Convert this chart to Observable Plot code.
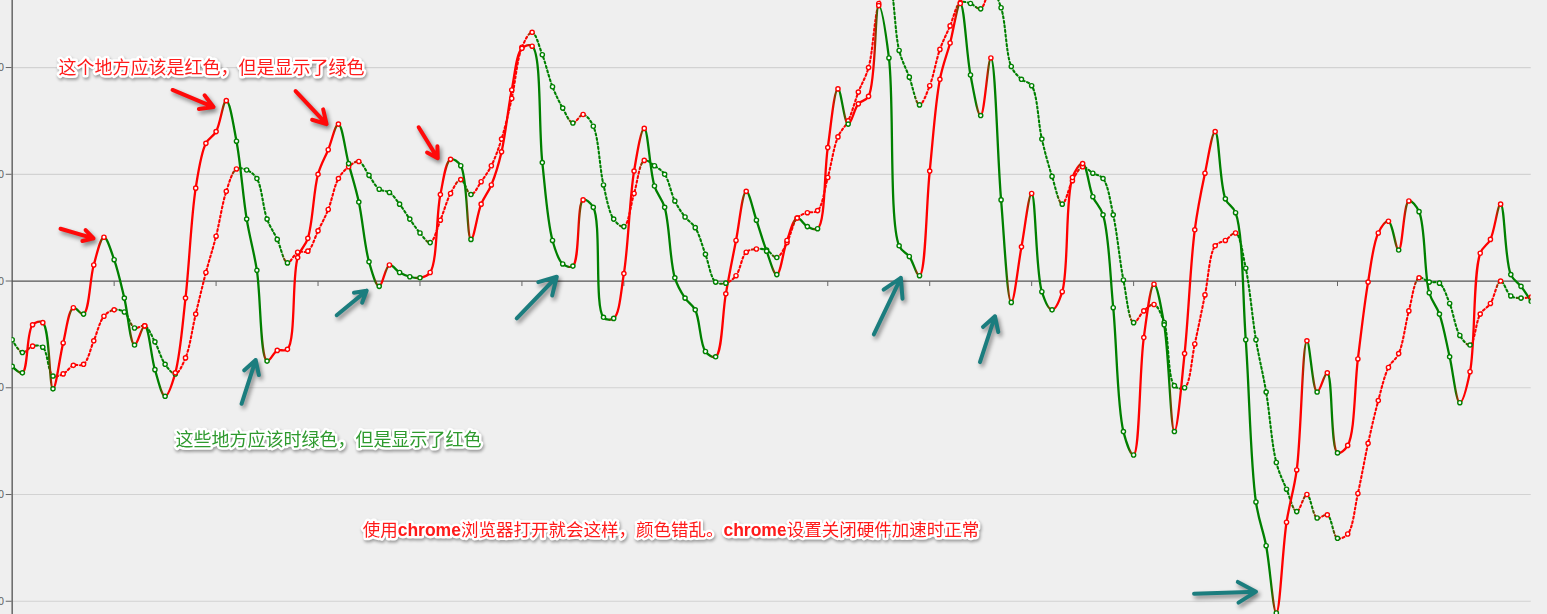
<!DOCTYPE html>
<html>
<head>
<meta charset="utf-8">
<script src="https://cdn.jsdelivr.net/npm/d3@7"></script>
<script src="https://cdn.jsdelivr.net/npm/@observablehq/plot@0.6"></script>
<style>
  html, body { margin: 0; padding: 0; background: #efefef; overflow: hidden; }
  #chart svg { display: block; }
</style>
</head>
<body>
<div id="chart"></div>
<script>
// ---- data ----
const macd = [
  -0.80,-0.86,-0.41,-0.39,-1.01,-0.58,-0.25,-0.31, 0.15, 0.41,
   0.20,-0.16,-0.60,-0.42,-0.83,-1.08,-0.86,-0.16, 0.87, 1.29,
   1.40, 1.69, 1.31, 0.58, 0.10,-0.75,-0.65,-0.64, 0.22, 0.40,
   1.00, 1.23, 1.47, 1.10, 0.74, 0.18,-0.05, 0.15, 0.08, 0.04,
   0.03, 0.08, 0.81, 1.14, 1.08, 0.39, 0.72, 0.90, 1.21, 1.79,
   2.18, 2.20, 1.11, 0.38, 0.16, 0.14, 0.76, 0.69,-0.34,-0.35,
   0.07, 1.03, 1.43, 0.89, 0.69, 0.03,-0.16,-0.27,-0.66,-0.71,
  -0.12, 0.38, 0.84, 0.57, 0.28, 0.06, 0.38, 0.59, 0.51, 0.49,
   1.25, 1.80, 1.47, 1.66, 1.73, 2.58, 2.09, 0.33, 0.23, 0.05,
   1.03, 1.89, 2.23, 2.60, 1.93, 1.55, 2.09, 0.76,-0.20, 0.32,
   0.82,-0.10,-0.27,-0.10, 0.97, 1.10, 0.79, 0.62,-0.25,-1.41,
  -1.63,-0.53,-0.03,-0.41,-1.41,-0.68, 0.48, 1.01, 1.40, 0.77,
   0.64,-0.55,-2.07,-2.48,-3.11,-2.26,-1.77,-0.56,-1.04,-0.86,
  -1.61,-1.54,-0.73,-0.01, 0.45, 0.56, 0.29, 0.75, 0.65,-0.11,
  -0.31,-0.71,-1.14,-0.85, 0.26, 0.39, 0.72, 0.06,-0.05,-0.19
];
const signal = [
  -0.55,-0.67,-0.61,-0.62,-0.89,-0.87,-0.79,-0.78,-0.56,-0.33,
  -0.27,-0.29,-0.44,-0.42,-0.57,-0.78,-0.87,-0.72,-0.31, 0.08,
   0.42, 0.84, 1.05, 1.04, 0.96, 0.58, 0.39, 0.17, 0.27, 0.28,
   0.47, 0.67, 0.96, 1.07, 1.12, 0.99, 0.86, 0.83, 0.72, 0.58,
   0.45, 0.36, 0.57, 0.82, 0.95, 0.81, 0.93, 1.08, 1.33, 1.71,
   2.19, 2.33, 2.12, 1.82, 1.62, 1.48, 1.56, 1.45, 0.90, 0.58,
   0.51, 0.82, 1.13, 1.08, 1.00, 0.75, 0.60, 0.50, 0.25,-0.01,
  -0.02, 0.05, 0.27, 0.30, 0.29, 0.22, 0.36, 0.59, 0.64, 0.66,
   0.97, 1.35, 1.50, 1.77, 2.00, 2.60, 2.80, 2.16, 1.91, 1.65,
   1.83, 2.17, 2.39, 2.61, 2.60, 2.55, 2.74, 2.56, 2.01, 1.89,
   1.83, 1.33, 0.98, 0.72, 0.94, 1.07, 1.01, 0.96, 0.62, 0.01,
  -0.39,-0.28,-0.22,-0.39,-0.98,-1.00,-0.59,-0.13, 0.33, 0.38,
   0.45, 0.12,-0.55,-1.04,-1.70,-1.95,-2.16,-2.00,-2.22,-2.19,
  -2.41,-2.37,-1.99,-1.52,-1.12,-0.81,-0.68,-0.28, 0.03,-0.01,
  -0.02,-0.21,-0.51,-0.60,-0.31,-0.21, 0.00,-0.14,-0.16,-0.15
];
const yTicks = [-3, -2, -1, 0, 1, 2];
const xTicks = [10, 20, 30, 40, 50, 60, 70, 80, 90, 100, 110, 120, 130, 140];
const yDomain = [-3.124, 2.628];

const noteTexts = [
  "这个地方应该是红色，但是显示了绿色",
  "这些地方应该时绿色，但是显示了红色",
  "使用chrome浏览器打开就会这样，颜色错乱。chrome设置关闭硬件加速时正常"
];
const noteX = [4.54, 16.03, 34.38];
const noteY = [1.99, -1.49, -2.34];
const noteColors = ["#ff1a1a", "#2e9a2e", "#ff1a1a"];

// arrows: [x1, y1, x2, y2, kind]
const arrowList = [
  [4.74, 0.49, 7.98, 0.40, "red"],
  [15.73, 1.79, 19.75, 1.63, "red"],
  [27.80, 1.78, 30.84, 1.47, "red"],
  [39.87, 1.44, 41.74, 1.15, "red"],
  [22.50, -1.15, 23.88, -0.74, "teal"],
  [31.83, -0.32, 34.77, -0.09, "teal"],
  [49.49, -0.35, 53.42, 0.04, "teal"],
  [84.52, -0.50, 87.17, 0.03, "teal"],
  [94.93, -0.76, 96.40, -0.33, "teal"],
  [115.93, -2.93, 122.01, -2.91, "teal"]
];

// ---- styling ----
const UP = "#ff0000";
const DOWN = "#008000";
const arrowColors = {red: "#ff0a0a", teal: "#1b7d7e"};
const SVGNS = "http://www.w3.org/2000/svg";

const idx = d3.range(macd.length);
const notes = noteTexts.map((t, i) => ({text: t, x: noteX[i], y: noteY[i], color: noteColors[i]}));
const arrows = arrowList.map(([x1, y1, x2, y2, k]) => ({x1, y1, x2, y2, color: arrowColors[k]}));

function pointColor(vals, i) {
  if (i === 0) return vals[1] >= vals[0] ? UP : DOWN;
  return vals[i] >= vals[i - 1] ? UP : DOWN;
}

// gradient (by x) that colours each segment by direction, blending near turns
function gradientDefs(index, scales) {
  const sx = scales.x;
  const defs = document.createElementNS(SVGNS, "defs");
  [["grad-macd", macd], ["grad-signal", signal]].forEach(([id, vals]) => {
    const lg = document.createElementNS(SVGNS, "linearGradient");
    lg.setAttribute("id", id);
    lg.setAttribute("gradientUnits", "userSpaceOnUse");
    const x0 = sx(0), x1 = sx(vals.length - 1);
    lg.setAttribute("x1", x0); lg.setAttribute("x2", x1);
    lg.setAttribute("y1", 0); lg.setAttribute("y2", 0);
    const off = v => (sx(v) - x0) / (x1 - x0);
    const add = (o, c) => {
      const s = document.createElementNS(SVGNS, "stop");
      s.setAttribute("offset", o);
      s.setAttribute("stop-color", c);
      lg.appendChild(s);
    };
    let last = UP;
    for (let i = 0; i < vals.length - 1; i++) {
      const c = vals[i + 1] >= vals[i] ? UP : DOWN;
      add(off(i), c);
      add(off(i + 0.5), c);
      last = c;
    }
    add(1, last);
    defs.appendChild(lg);
  });
  return defs;
}

const tickDown = {draw(ctx) { ctx.moveTo(0, 0); ctx.lineTo(0, 5); }};

const chart = Plot.plot({
  width: 1547,
  height: 614,
  marginLeft: 11.7,
  marginRight: 16.3,
  marginTop: 0,
  marginBottom: 0,
  style: {background: "#efefef", fontFamily: "'Noto Sans CJK SC', 'Noto Sans', sans-serif"},
  x: {domain: [0, macd.length - 1], axis: null},
  y: {domain: yDomain, axis: null},
  color: {type: "identity"},
  marks: [
    gradientDefs,
    Plot.ruleY(yTicks.filter(d => d !== 0), {stroke: "#d2d2d2", strokeWidth: 1.2}),
    Plot.axisY({ticks: yTicks, tickSize: 6, tickPadding: 2, fontSize: 11, color: "#666", tickFormat: d3.format(".1f")}),
    Plot.ruleX([0], {stroke: "#6f6f6f", strokeWidth: 1.6}),
    Plot.ruleY([0], {stroke: "#555", strokeWidth: 1.3}),
    Plot.dot(xTicks, {x: d => d, y: 0, r: 4, symbol: tickDown, fill: "none", stroke: "#666", strokeWidth: 1}),
    Plot.line(idx, {x: i => i, y: i => signal[i], curve: "catmull-rom", stroke: "url(#grad-signal)", strokeWidth: 2.1, strokeDasharray: "2 2.6", clip: true}),
    Plot.line(idx, {x: i => i, y: i => macd[i], curve: "catmull-rom", stroke: "url(#grad-macd)", strokeWidth: 2.3, clip: true}),
    Plot.dot(idx, {x: i => i, y: i => signal[i], r: 2.1, fill: "white", stroke: i => pointColor(signal, i), strokeWidth: 1.4, clip: true}),
    Plot.dot(idx, {x: i => i, y: i => macd[i], r: 2.1, fill: "white", stroke: i => pointColor(macd, i), strokeWidth: 1.4, clip: true}),
    Plot.arrow(arrows, {x1: "x1", y1: "y1", x2: "x2", y2: "y2", stroke: "color", strokeWidth: 4, headLength: 11, headAngle: 60}),
    Plot.text(notes, {x: "x", y: "y", text: "text", fill: "color", textAnchor: "start", fontSize: 18, stroke: "white", strokeWidth: 5, strokeLinejoin: "round", paintOrder: "stroke"})
  ]
});

document.getElementById("chart").appendChild(chart);

// drop shadows for annotations, bold "chrome" runs, smaller third note
chart.querySelectorAll('g[aria-label="arrow"]').forEach(g => g.style.filter = "drop-shadow(2px 3px 2px rgba(0,0,0,0.45))");
chart.querySelectorAll('g[aria-label="text"]').forEach(g => {
  g.style.filter = "drop-shadow(1px 2px 1.5px rgba(0,0,0,0.35))";
  g.querySelectorAll("text").forEach(t => {
    const s = t.textContent;
    if (!s.includes("chrome")) return;
    t.setAttribute("font-size", "17.5");
    t.textContent = "";
    s.split(/(chrome)/).forEach(part => {
      if (!part) return;
      const ts = document.createElementNS(SVGNS, "tspan");
      ts.textContent = part;
      if (part === "chrome") {
        ts.setAttribute("font-weight", "bold");
        ts.setAttribute("font-family", "'Liberation Sans', Arial, sans-serif");
      }
      t.appendChild(ts);
    });
  });
});
</script>
</body>
</html>
